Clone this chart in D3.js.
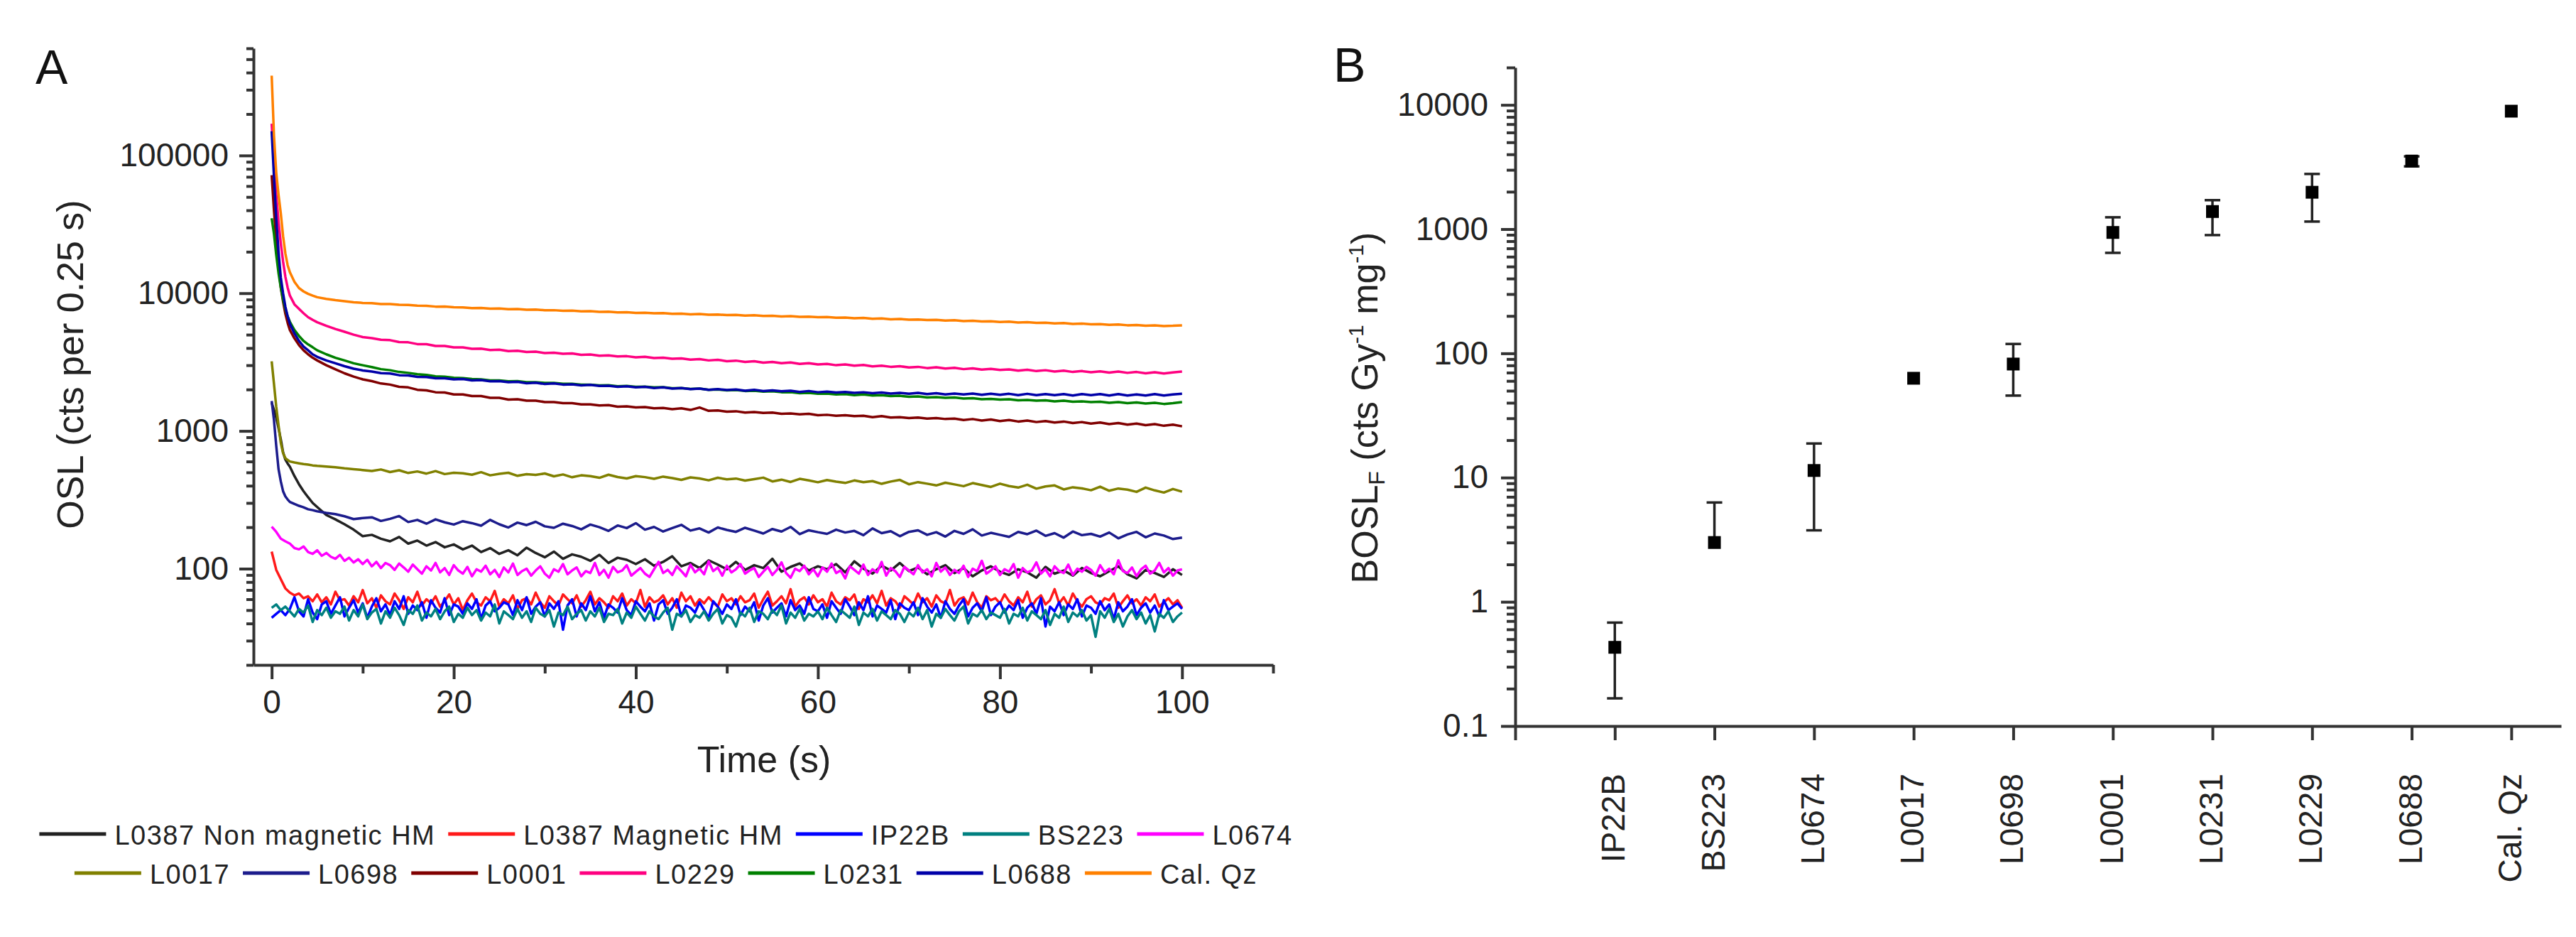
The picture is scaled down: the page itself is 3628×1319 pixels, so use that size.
<!DOCTYPE html>
<html lang="en">
<head>
<meta charset="UTF-8" />
<title>OSL decay curves and BOSL_F</title>
<style>
  body { margin: 0; background: #fff; font-family: 'Liberation Sans', Arial, Helvetica, sans-serif; }
  .axis path, .axis line { stroke: #333; stroke-width: 4; }
  .axis text { font-size: 46px; fill: #222; font-family: 'Liberation Sans', Arial, sans-serif; }
  .curve { fill: none; stroke-width: 3.5; stroke-linejoin: round; }
  .title { font-size: 52px; fill: #222; }
  .panel { font-size: 68px; fill: #111; }
  .legend text { font-size: 38px; letter-spacing: 1.5px; fill: #222; }
  .err { stroke: #222; stroke-width: 3.5; }
</style>
</head>
<body>
<script src="https://d3js.org/d3.v7.min.js"></script>
<script>
// ---- panel A: OSL decay curves (cts per 0.25 s) ----
const times = [0,0.25,0.5,0.75,1,1.25,1.5,1.75,2,2.5,
  3,3.5,4,4.5,5,6,7,8,9,10,
  11,12,13,14,15,16,17,18,19,20,
  21,22,23,24,25,26,27,28,29,30,
  31,32,33,34,35,36,37,38,39,40,
  41,42,43,44,45,46,47,48,49,50,
  51,52,53,54,55,56,57,58,59,60,
  61,62,63,64,65,66,67,68,69,70,
  71,72,73,74,75,76,77,78,79,80,
  81,82,83,84,85,86,87,88,89,90,
  91,92,93,94,95,96,97,98,99,100];

// denser sampling for the noisy low-signal curves
const timesDense = [0,0.5,1,1.5,2,2.5,3,3.5,4,4.5,5,5.5,6,6.5,7,7.5,8,8.5,9,9.5,
  10,10.5,11,11.5,12,12.5,13,13.5,14,14.5,15,15.5,16,16.5,17,17.5,18,18.5,19,19.5,
  20,20.5,21,21.5,22,22.5,23,23.5,24,24.5,25,25.5,26,26.5,27,27.5,28,28.5,29,29.5,
  30,30.5,31,31.5,32,32.5,33,33.5,34,34.5,35,35.5,36,36.5,37,37.5,38,38.5,39,39.5,
  40,40.5,41,41.5,42,42.5,43,43.5,44,44.5,45,45.5,46,46.5,47,47.5,48,48.5,49,49.5,
  50,50.5,51,51.5,52,52.5,53,53.5,54,54.5,55,55.5,56,56.5,57,57.5,58,58.5,59,59.5,
  60,60.5,61,61.5,62,62.5,63,63.5,64,64.5,65,65.5,66,66.5,67,67.5,68,68.5,69,69.5,
  70,70.5,71,71.5,72,72.5,73,73.5,74,74.5,75,75.5,76,76.5,77,77.5,78,78.5,79,79.5,
  80,80.5,81,81.5,82,82.5,83,83.5,84,84.5,85,85.5,86,86.5,87,87.5,88,88.5,89,89.5,
  90,90.5,91,91.5,92,92.5,93,93.5,94,94.5,95,95.5,96,96.5,97,97.5,98,98.5,99,99.5,
  100];

const l0387NonMag = [1600,1420,1250,1050,870,700,620,580,550,470,
  410,365,330,300,280,245,228,210,192,172,
  176,165,158,170,152,160,147,156,143,150,
  138,147,132,141,128,136,125,142,130,121,
  133,118,127,122,114,126,110,120,116,108,
  117,105,112,123,104,110,101,115,107,99,
  112,98,106,101,118,95,103,109,97,104,
  99,108,94,113,100,92,105,97,110,96,
  102,91,99,106,93,101,88,97,104,95,
  90,99,94,86,103,92,97,89,101,93,
  88,96,104,91,85,98,93,87,99,90];

const l0387Mag = [133,98,84,72,67,64,66,61,63,58,65,57,62,55,68,59,60,54,63,57,
  70,56,61,52,64,58,55,66,59,51,62,57,68,54,60,56,63,53,58,65,
  55,61,50,59,66,57,54,62,58,69,53,60,56,64,51,59,61,55,67,57,
  52,63,58,54,65,60,56,64,53,59,68,55,61,57,52,63,58,66,54,60,
  56,70,53,62,57,59,64,55,61,52,67,58,63,54,60,56,62,57,53,65,
  58,61,55,63,57,59,66,52,60,68,54,58,63,56,71,53,59,62,55,64,
  57,60,53,67,58,55,62,59,65,51,60,57,64,56,69,54,61,58,52,63,
  59,55,66,57,61,53,64,58,56,70,54,60,62,55,67,57,52,63,59,61,
  56,65,58,54,62,57,68,53,60,64,55,59,71,56,62,54,66,58,53,60,
  63,57,55,61,59,66,52,58,64,56,60,54,62,58,65,53,57,61,55,59,
  52];

const ip22b = [44,47,50,46,51,62,49,45,60,48,43,55,58,47,54,62,45,52,59,48,
  56,44,53,61,49,55,46,58,51,63,47,54,50,57,44,59,52,48,61,46,
  55,53,47,56,51,60,43,54,58,49,52,57,55,46,59,50,62,47,53,57,
  45,56,51,58,36,54,60,45,56,50,63,49,57,44,55,52,48,61,50,46,
  58,53,49,56,42,55,59,47,52,60,45,54,52,48,57,50,44,58,53,47,
  55,51,60,46,53,49,57,42,54,61,48,52,56,45,59,50,54,47,62,51,
  49,55,44,58,52,47,60,53,46,57,50,63,45,54,51,48,59,43,56,52,
  50,57,46,61,53,48,55,44,58,51,47,54,60,45,52,56,49,62,46,53,
  57,48,54,50,59,44,52,56,47,61,38,53,49,57,46,55,51,60,45,54,
  52,47,58,50,55,43,57,49,53,60,46,52,56,48,54,45,59,50,53,56,
  51];

const bs223 = [52,55,50,53,49,45,51,48,54,41,50,46,52,44,49,47,53,42,50,45,
  55,43,48,51,40,49,44,52,46,39,50,47,54,42,48,45,51,43,49,53,
  41,47,44,52,46,50,42,48,45,55,40,49,46,43,51,44,49,41,52,47,
  45,50,38,48,46,53,43,47,50,42,49,45,52,41,47,46,51,40,48,44,
  53,47,42,49,45,43,48,52,36,47,45,50,41,46,44,49,42,47,51,40,
  46,44,38,48,45,52,41,49,47,43,50,46,54,40,48,44,51,42,47,45,
  49,43,52,46,41,50,47,44,53,39,48,45,51,42,49,46,43,50,47,41,
  48,45,52,43,50,38,47,44,51,46,42,49,53,40,47,45,50,43,48,46,
  44,51,40,47,45,52,42,49,46,43,50,39,47,44,53,41,48,45,50,42,
  46,32,49,44,51,41,47,38,45,50,43,48,40,46,35,47,44,49,41,45,
  48];

const l0674 = [202,185,165,158,152,141,138,145,132,128,136,124,130,122,118,126,114,120,111,117,
  108,116,104,112,101,110,106,98,109,102,95,107,99,92,104,97,110,94,101,90,
  106,97,92,103,88,99,95,105,91,98,87,102,94,109,90,96,100,89,97,104,
  92,86,99,95,108,91,97,102,88,96,93,110,90,98,86,103,94,97,106,89,
  95,101,92,87,99,112,93,98,90,104,96,88,107,94,100,91,113,96,102,89,
  105,94,99,108,92,97,101,87,95,103,90,98,111,93,86,100,96,105,91,99,
  88,102,95,109,93,97,85,104,98,92,107,90,99,94,112,89,101,96,87,103,
  97,91,106,94,99,88,110,95,102,90,98,93,105,87,100,96,114,92,97,104,
  90,99,95,108,86,101,94,97,111,92,99,88,104,96,93,107,90,100,95,103,
  98,89,106,94,100,91,115,96,93,102,88,99,105,92,97,110,94,101,89,97,
  99];

const l0017 = [3200,2200,1500,1100,820,690,635,615,600,590,
  582,575,570,562,558,552,545,535,528,520,
  512,525,503,518,495,508,490,511,486,497,
  493,481,502,476,488,497,472,485,479,491,
  468,483,461,476,470,457,481,463,452,470,
  462,449,466,455,441,460,452,438,457,445,
  451,436,447,458,430,443,426,449,437,424,
  440,428,419,437,425,432,413,429,441,410,
  425,414,402,421,409,397,418,405,392,414,
  398,388,407,381,395,402,376,390,383,371,
  394,368,382,375,361,388,370,357,379,362];

const l0698 = [1650,1200,780,530,430,365,335,318,305,295,
  286,279,270,266,261,254,249,240,229,233,
  236,222,230,241,218,226,212,228,217,209,
  221,214,205,226,210,199,216,207,219,203,
  198,212,204,193,209,200,188,206,197,214,
  192,201,186,197,208,189,196,183,199,191,
  185,198,189,180,194,186,201,178,190,184,
  179,192,183,188,175,196,181,187,172,185,
  190,176,184,171,188,179,193,174,182,176,
  170,185,178,189,173,181,168,186,175,179,
  171,183,166,177,185,169,180,174,164,168];

const l0001 = [72000,40000,24000,15500,11000,8700,7100,6100,5400,4700,
  4200,3850,3600,3400,3250,3000,2800,2620,2480,2370,
  2300,2210,2170,2090,2070,1990,1970,1910,1900,1840,
  1840,1790,1790,1740,1740,1690,1700,1660,1660,1620,
  1620,1590,1590,1560,1560,1530,1540,1500,1510,1480,
  1490,1460,1470,1440,1460,1420,1480,1400,1410,1380,
  1390,1360,1370,1350,1360,1330,1340,1320,1330,1300,
  1310,1290,1300,1280,1290,1260,1280,1250,1260,1240,
  1250,1230,1240,1220,1230,1200,1220,1190,1210,1180,
  1200,1170,1190,1160,1180,1150,1170,1140,1160,1130,
  1150,1120,1140,1110,1130,1100,1120,1090,1110,1080];

const l0229 = [170000,90000,52000,33000,23000,17000,13200,11000,9600,8300,
  7700,7150,6700,6400,6150,5800,5500,5250,5000,4800,
  4720,4590,4560,4420,4400,4270,4260,4140,4140,4040,
  4040,3950,3960,3870,3890,3800,3820,3740,3760,3680,
  3700,3630,3650,3570,3590,3520,3540,3470,3490,3420,
  3450,3380,3400,3340,3360,3290,3320,3250,3280,3210,
  3240,3170,3210,3130,3170,3100,3140,3070,3100,3040,
  3070,3000,3040,2980,3010,2940,2980,2920,2950,2890,
  2920,2860,2900,2840,2870,2810,2850,2790,2820,2770,
  2800,2740,2780,2720,2760,2700,2740,2680,2720,2670,
  2710,2650,2700,2640,2680,2620,2670,2610,2660,2700];

const l0231 = [35000,27000,19000,14000,11000,9000,7700,6800,6200,5400,
  4900,4500,4250,4050,3850,3600,3400,3250,3100,3000,
  2910,2810,2760,2680,2640,2580,2550,2490,2480,2430,
  2420,2380,2370,2330,2330,2290,2300,2260,2260,2230,
  2230,2200,2200,2170,2170,2140,2150,2110,2120,2090,
  2100,2070,2080,2040,2050,2020,2030,1990,2000,1970,
  1980,1950,1960,1930,1940,1910,1910,1880,1890,1860,
  1870,1840,1850,1820,1840,1810,1820,1790,1800,1770,
  1780,1750,1760,1740,1750,1720,1730,1700,1710,1690,
  1700,1670,1680,1660,1670,1640,1660,1630,1640,1620,
  1630,1600,1620,1590,1610,1580,1600,1570,1590,1620];

const l0688 = [150000,70000,35000,20000,13000,10000,8000,6800,6000,5100,
  4500,4100,3850,3600,3450,3250,3100,2950,2830,2750,
  2700,2630,2610,2540,2530,2470,2460,2410,2410,2370,
  2380,2330,2340,2290,2300,2260,2270,2220,2240,2190,
  2210,2170,2180,2140,2160,2120,2130,2090,2110,2070,
  2090,2050,2070,2030,2050,2010,2030,1990,2010,1980,
  2000,1960,1990,1950,1970,1940,1960,1920,1950,1910,
  1930,1900,1920,1890,1910,1880,1900,1870,1890,1860,
  1890,1850,1880,1840,1870,1840,1870,1830,1860,1830,
  1860,1820,1860,1820,1850,1820,1850,1810,1850,1820,
  1850,1810,1850,1810,1840,1810,1850,1810,1840,1860];

const calQz = [380000,140000,75000,52000,38000,26000,19500,16000,14200,12100,
  10900,10300,9900,9600,9350,9100,8900,8750,8600,8500,
  8460,8350,8340,8240,8230,8120,8100,7990,8010,7900,
  7880,7800,7820,7720,7740,7660,7680,7580,7600,7520,
  7530,7450,7470,7390,7400,7320,7350,7260,7280,7200,
  7220,7150,7170,7080,7110,7030,7060,6980,7010,6930,
  6960,6880,6910,6840,6860,6780,6810,6730,6760,6690,
  6710,6630,6660,6580,6610,6520,6560,6470,6500,6430,
  6450,6380,6410,6330,6360,6280,6310,6230,6260,6180,
  6210,6130,6170,6090,6110,6040,6070,5990,6020,5940,
  5970,5900,5930,5850,5880,5810,5840,5770,5800,5850];

const seriesNames = ['L0387 Non magnetic HM', 'L0387 Magnetic HM', 'IP22B', 'BS223', 'L0674',
  'L0017', 'L0698', 'L0001', 'L0229', 'L0231', 'L0688', 'Cal. Qz'];
const seriesValues = [l0387NonMag, l0387Mag, ip22b, bs223, l0674,
  l0017, l0698, l0001, l0229, l0231, l0688, calQz];
const seriesTimes = [times, timesDense, timesDense, timesDense, timesDense,
  times, times, times, times, times, times, times];
const seriesColors = ['#222222', '#ff1a1a', '#0000ff', '#008080', '#ff00ff',
  '#808000', '#1c1c8c', '#800000', '#ff0080', '#008000', '#0000a8', '#ff8000'];

const oslTicks = [100, 1000, 10000, 100000];
const timeTicks = [0, 20, 40, 60, 80, 100];
const timeMinorTicks = [10, 30, 50, 70, 90, 110];

// ---- panel B: BOSL_F per sample ----
const samples = ['IP22B', 'BS223', 'L0674', 'L0017', 'L0698', 'L0001', 'L0231', 'L0229', 'L0688', 'Cal. Qz'];
const bosl = [0.43, 3.0, 11.4, 63, 82, 940, 1385, 1980, 3530, 8900];
const boslLow = [0.167, null, 3.76, null, 45.7, 644, 895, 1150, 3200, null];
const boslHigh = [0.68, 6.3, 18.8, null, 119, 1245, 1710, 2780, 3850, null];
const boslTicks = [0.1, 1, 10, 100, 1000, 10000];

const svg = d3.select('body').append('svg')
  .attr('width', 3628).attr('height', 1319)
  .style('display', 'block');

// log minor ticks between lo and hi
function logMinors(lo, hi) {
  const out = [];
  for (let e = Math.floor(Math.log10(lo)); e <= Math.ceil(Math.log10(hi)); e++) {
    for (let m = 2; m <= 9; m++) {
      const v = +(m * Math.pow(10, e)).toPrecision(3);
      if (v >= lo && v <= hi) out.push(v);
    }
  }
  return out;
}

// ===== Panel A =====
const xA = d3.scaleLinear().domain([-2, 110]).range([357, 1793]);
const yA = d3.scaleLog().domain([20, 600000]).range([936, 68]);

const gA = svg.append('g');

gA.append('g').attr('class', 'axis').attr('transform', 'translate(0,936)')
  .call(d3.axisBottom(xA).tickValues(timeMinorTicks).tickSize(12).tickSizeOuter(0).tickFormat(''))
  .call(g => g.select('.domain').remove());
gA.append('g').attr('class', 'axis').attr('transform', 'translate(0,936)')
  .call(d3.axisBottom(xA).tickValues(timeTicks).tickSize(20).tickSizeOuter(0).tickPadding(15));

gA.append('g').attr('class', 'axis').attr('transform', 'translate(357,0)')
  .call(d3.axisLeft(yA).tickValues(logMinors(20, 600000)).tickSize(10).tickFormat(''))
  .call(g => g.select('.domain').remove());
gA.append('g').attr('class', 'axis').attr('transform', 'translate(357,0)')
  .call(d3.axisLeft(yA).tickValues(oslTicks).tickSize(20).tickSizeOuter(0).tickPadding(15).tickFormat(d3.format('d')));

gA.selectAll('.curve')
  .data(seriesValues)
  .join('path')
  .attr('class', 'curve')
  .attr('stroke', (d, i) => seriesColors[i])
  .attr('d', (d, k) => d3.line()
    .x((v, i) => xA(seriesTimes[k][i]))
    .y(v => yA(v))(d));

gA.append('text').attr('class', 'panel').attr('x', 50).attr('y', 118).text('A');
gA.append('text').attr('class', 'title')
  .attr('transform', 'translate(117,513) rotate(-90)')
  .attr('text-anchor', 'middle')
  .text('OSL (cts per 0.25 s)');
gA.append('text').attr('class', 'title')
  .attr('x', 1076).attr('y', 1087)
  .attr('text-anchor', 'middle')
  .text('Time (s)');

// legend
const legendRows = [[0, 1, 2, 3, 4], [5, 6, 7, 8, 9, 10, 11]];
const legendY = [1174, 1229];
const legend = svg.append('g').attr('class', 'legend');
legendRows.forEach((row, r) => {
  const g = legend.append('g');
  let x = 0;
  row.forEach(i => {
    g.append('line')
      .attr('x1', x).attr('x2', x + 94)
      .attr('y1', 0).attr('y2', 0)
      .attr('stroke', seriesColors[i])
      .attr('stroke-width', 5);
    const t = g.append('text')
      .attr('x', x + 106).attr('y', 15)
      .text(seriesNames[i]);
    x = x + 106 + t.node().getComputedTextLength() + 18;
  });
  const w = x - 18;
  g.attr('transform', `translate(${938 - w / 2},${legendY[r]})`);
});

// ===== Panel B =====
const xB = d3.scaleLinear().domain([0, 10.5]).range([2134, 3607]);
const yB = d3.scaleLog().domain([0.1, 20000]).range([1022, 95]);

const gB = svg.append('g');

gB.append('g').attr('class', 'axis').attr('transform', 'translate(0,1022)')
  .call(d3.axisBottom(xB).tickValues(d3.range(0, 11)).tickSize(20).tickSizeOuter(0).tickFormat(''));

gB.append('g').attr('class', 'axis').attr('transform', 'translate(2134,0)')
  .call(d3.axisLeft(yB).tickValues(logMinors(0.1, 20000)).tickSize(12).tickFormat(''))
  .call(g => g.select('.domain').remove());
gB.append('g').attr('class', 'axis').attr('transform', 'translate(2134,0)')
  .call(d3.axisLeft(yB).tickValues(boslTicks).tickSize(20).tickSizeOuter(0).tickPadding(18).tickFormat(d3.format('~g')));

// category labels, rotated
gB.selectAll('.cat')
  .data(samples)
  .join('text')
  .attr('class', 'cat')
  .attr('transform', (d, i) => `translate(${xB(i + 1) + 14},1089) rotate(-90)`)
  .attr('text-anchor', 'end')
  .attr('font-size', 46)
  .attr('fill', '#222')
  .text(d => d);

// error bars
const capW = 11;
samples.forEach((s, i) => {
  const cx = xB(i + 1);
  const g = gB.append('g');
  if (boslHigh[i] != null) {
    g.append('line').attr('class', 'err')
      .attr('x1', cx).attr('x2', cx)
      .attr('y1', yB(bosl[i])).attr('y2', yB(boslHigh[i]));
    g.append('line').attr('class', 'err')
      .attr('x1', cx - capW).attr('x2', cx + capW)
      .attr('y1', yB(boslHigh[i])).attr('y2', yB(boslHigh[i]));
  }
  if (boslLow[i] != null) {
    g.append('line').attr('class', 'err')
      .attr('x1', cx).attr('x2', cx)
      .attr('y1', yB(bosl[i])).attr('y2', yB(boslLow[i]));
    g.append('line').attr('class', 'err')
      .attr('x1', cx - capW).attr('x2', cx + capW)
      .attr('y1', yB(boslLow[i])).attr('y2', yB(boslLow[i]));
  }
});

gB.selectAll('.pt')
  .data(bosl)
  .join('rect')
  .attr('class', 'pt')
  .attr('x', (d, i) => xB(i + 1) - 9)
  .attr('y', d => yB(d) - 9)
  .attr('width', 18).attr('height', 18)
  .attr('fill', '#000');

gB.append('text').attr('class', 'panel').attr('x', 1878).attr('y', 115).text('B');

const yTitle = gB.append('text').attr('class', 'title')
  .attr('transform', 'translate(1940,574) rotate(-90)')
  .attr('text-anchor', 'middle');
yTitle.append('tspan').text('BOSL');
yTitle.append('tspan').attr('font-size', 32).attr('dy', 10).text('F');
yTitle.append('tspan').attr('dy', -10).text(' (cts Gy');
yTitle.append('tspan').attr('font-size', 30).attr('dy', -20).text('-1');
yTitle.append('tspan').attr('dy', 20).text(' mg');
yTitle.append('tspan').attr('font-size', 30).attr('dy', -20).text('-1');
yTitle.append('tspan').attr('dy', 20).text(')');
</script>
</body>
</html>
